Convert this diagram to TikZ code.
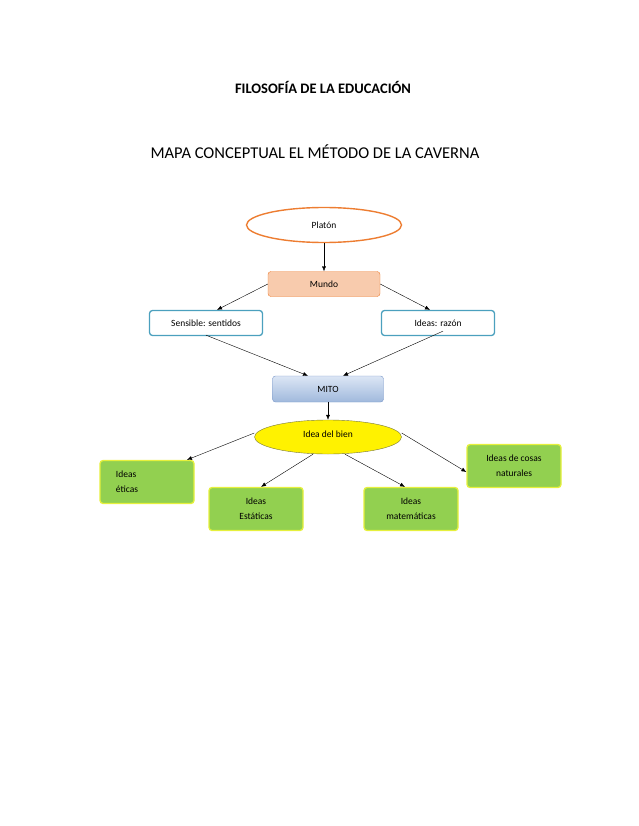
\documentclass[tikz,border=0pt]{standalone}
\usepackage{fontspec}
\setmainfont{Carlito}
\usetikzlibrary{shapes.geometric,arrows.meta}
\begin{document}
\begin{tikzpicture}[x=1pt,y=-1pt,font=\fontsize{9.5}{11}\selectfont,
 box/.style={draw,rounded corners=3pt,minimum height=25pt,align=center},
 gbox/.style={box,fill={rgb,255:red,146;green,208;blue,80},draw={rgb,255:red,230;green,240;blue,60},line width=1.3pt,minimum width=94pt,minimum height=43pt},
 arr/.style={-{Latex[length=5pt,width=4pt]},thin}]
\useasboundingbox (0,0) rectangle (638,826);
\node[font=\bfseries\fontsize{14.5}{16}\selectfont] (t1) at (323,87) {FILOSOFÍA DE LA EDUCACIÓN};
\node[font=\fontsize{16.5}{18}\selectfont,anchor=west] (t2) at (147,152) {MAPA CONCEPTUAL EL MÉTODO DE LA CAVERNA};
\node[ellipse,draw={rgb,255:red,237;green,125;blue,49},line width=1.4pt,minimum width=155pt,minimum height=35pt] (pl) at (324,225) {Platón};
\node[box,draw={rgb,255:red,237;green,125;blue,49},fill={rgb,255:red,248;green,203;blue,173},minimum width=112pt] (mu) at (324,284) {Mundo};
\node[box,draw={rgb,255:red,75;green,160;blue,190},line width=1.3pt,fill=white,minimum width=113pt] (se) at (206,323) {Sensible: sentidos};
\node[box,draw={rgb,255:red,75;green,160;blue,190},line width=1.3pt,fill=white,minimum width=113pt] (ra) at (438,323) {Ideas: razón};
\node[box,draw={rgb,255:red,120;green,150;blue,200},top color={rgb,255:red,220;green,230;blue,245},bottom color={rgb,255:red,160;green,185;blue,220},minimum width=111pt,minimum height=26pt] (mi) at (328,389) {MITO};
\node[ellipse,draw={rgb,255:red,120;green,120;blue,60},fill=yellow,minimum width=147pt,minimum height=34pt] (bi) at (328,437) {\raisebox{5pt}{Idea del bien}};
\node[gbox,align=left] (et) at (147,482) {Ideas\\[4pt]éticas\hspace*{40pt}};
\node[gbox] (es) at (256,509) {Ideas\\[4pt]Estáticas};
\node[gbox] (ma) at (411,509) {Ideas\\[4pt]matemáticas};
\node[gbox] (na) at (514,466) {Ideas de cosas\\[4pt]naturales};
\draw[arr] (pl.south) -- (mu.north);
\draw[arr] (mu.west) -- ([xshift=11pt]se.north);
\draw[arr] (mu.east) -- ([xshift=-8pt]ra.north);
\draw[arr] ([yshift=1pt]se.south) -- ([xshift=-20pt]mi.north);
\draw[arr] ([xshift=5pt,yshift=5pt]ra.south) -- ([xshift=15pt]mi.north);
\draw[arr] (mi.south) -- (bi.north);
\draw[arr] ([yshift=4pt]bi.west) -- ([xshift=40pt]et.north);
\draw[arr] ([xshift=-15pt]bi.south) -- ([xshift=5pt]es.north);
\draw[arr] ([xshift=17pt]bi.south) -- ([xshift=-6pt]ma.north);
\draw[arr] ([yshift=4pt]bi.east) -- ([yshift=-6pt]na.west);
\end{tikzpicture}
\end{document}
